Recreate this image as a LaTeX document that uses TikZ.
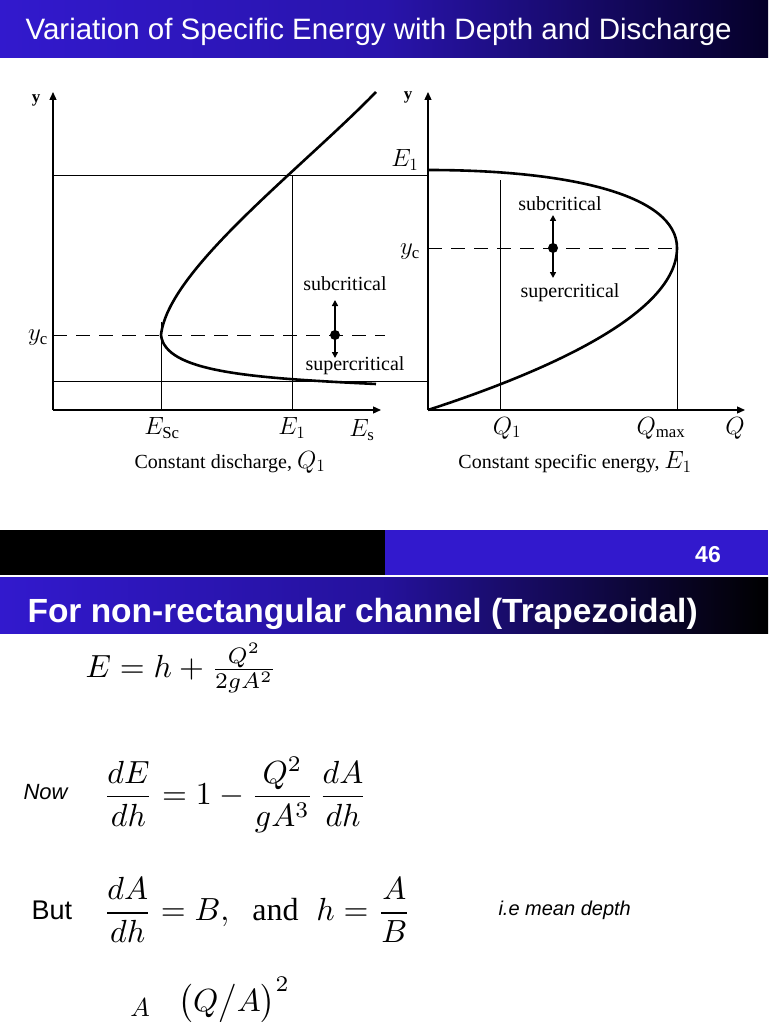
\documentclass[tikz,border=0pt]{standalone}
\usepackage{amsmath}
\usepackage{graphicx}
\usepackage{fontspec}
\setmainfont{Liberation Serif}
\setsansfont{Liberation Sans}
\usetikzlibrary{arrows.meta}
\definecolor{bblue}{RGB}{50,25,205}
\definecolor{ddark}{RGB}{5,0,40}
\tikzset{ax/.style={line width=1.3pt,-{Triangle[length=8pt,width=7pt]}},
 thin/.style={line width=0.9pt},
 curve/.style={line width=2.6pt},
 lab/.style={font=\fontsize{20}{20}\selectfont,inner sep=0pt},
 dbl/.style={line width=1.6pt,{Triangle[length=6pt,width=6pt]}-{Triangle[length=6pt,width=6pt]}}}
\begin{document}
\begin{tikzpicture}[x=1pt,y=-1pt]
\useasboundingbox (0,0) rectangle (768,1024);
\fill[white] (0,0) rectangle (768,1024);
% top banner
\shade[left color=bblue,right color=ddark,middle color=bblue!80!ddark] (0,0) rectangle (768,58);
\node[anchor=west,text=white,font=\sffamily\fontsize{29.5}{29.5}\selectfont] (title) at (22,32) {Variation of Specific Energy with Depth and Discharge};
% left graph
\draw[ax] (53,410) -- (53,92);
\draw[ax] (53,410) -- (381,410);
\node[lab,font=\bfseries\fontsize{17}{17}\selectfont] (ly) at (36,100) {y};
\draw[thin] (53,175) -- (428,175);
\draw[thin] (53,381) -- (428,381);
\draw[thin] (161,410) -- (161,322);
\draw[thin] (292,410) -- (292,175);
\draw[thin,dash pattern=on 14pt off 9pt] (53,335) -- (385,335);
\draw[curve] (376,92) .. controls (300,170) and (168,270) .. (161,335) .. controls (165,372) and (250,378) .. (376,384);
\draw[dbl] (335,300) -- (335,358);
\fill (335,335) circle (5pt);
\node[lab] (sub1) at (345,284) {subcritical};
\node[lab] (sup1) at (355,366) {supercritical};
\node[lab] (yc1) at (38,338) {\scalebox{1.2}{$y_{\mathrm c}$}};
\node[lab] (esc) at (162,428) {\scalebox{1.2}{$E_{\mathrm{Sc}}$}};
\node[lab] (e1a) at (292,428) {\scalebox{1.2}{$E_1$}};
\node[lab] (es) at (362,430) {\scalebox{1.2}{$E_{\mathrm s}$}};
\node[lab] (cd) at (230,462) {Constant discharge, \scalebox{1.2}{$Q_1$}};
% right graph
\draw[ax] (428,410) -- (428,92);
\draw[ax] (428,410) -- (745,410);
\node[lab,font=\bfseries\fontsize{17}{17}\selectfont] (ry) at (408,97) {y};
\node[lab] (e1b) at (405,160) {\scalebox{1.2}{$E_1$}};
\draw[thin] (500,410) -- (500,180);
\draw[thin] (677,410) -- (677,248);
\draw[thin,dash pattern=on 14pt off 9pt] (428,248) -- (677,248);
\draw[curve] (428,170) .. controls (570,170) and (677,195) .. (677,248) .. controls (677,320) and (520,380) .. (428,410);
\draw[dbl] (553,215) -- (553,278);
\fill (553,248) circle (5pt);
\node[lab] (sub2) at (560,204) {subcritical};
\node[lab] (sup2) at (570,293) {supercritical};
\node[lab] (yc2) at (410,252) {\scalebox{1.2}{$y_{\mathrm c}$}};
\node[lab] (q1) at (507,428) {\scalebox{1.2}{$Q_1$}};
\node[lab] (qm) at (661,428) {\scalebox{1.2}{$Q_{\max}$}};
\node[lab] (q) at (735,428) {\scalebox{1.2}{$Q$}};
\node[lab] (cse) at (575,462) {Constant specific energy, \scalebox{1.2}{$E_1$}};
% middle bars
\fill[black] (0,530) rectangle (385,575);
\fill[bblue] (385,530) rectangle (768,575);
\node[text=white,font=\sffamily\bfseries\fontsize{23}{23}\selectfont] (num) at (708,555) {46};
\shade[left color=bblue,right color=black,middle color=bblue!70!ddark] (0,577) rectangle (768,633);
\node[anchor=west,text=white,font=\sffamily\bfseries\fontsize{33.5}{33.5}\selectfont] (t2) at (24,614) {For non-rectangular channel (Trapezoidal)};
% equations
\node[anchor=west] (eq1) at (82,668) {\scalebox{3.2}{$E=h+\frac{Q^2}{2gA^2}$}};
\node[anchor=west,font=\sffamily\itshape\fontsize{22}{22}\selectfont] (now) at (20,792) {Now};
\node[anchor=west] (eq2) at (100,795) {\scalebox{3.2}{$\dfrac{dE}{dh}=1-\dfrac{Q^2}{gA^3}\,\dfrac{dA}{dh}$}};
\node[anchor=west,font=\sffamily\fontsize{27}{27}\selectfont] (but) at (28,910) {But};
\node[anchor=west] (eq3) at (100,910) {\scalebox{3.2}{$\dfrac{dA}{dh}=B,\;\;\text{and}\;\; h=\dfrac{A}{B}$}};
\node[anchor=west,font=\sffamily\itshape\fontsize{20}{20}\selectfont] (ie) at (495,910) {i.e mean depth};
\node (bA) at (140,1008) {\scalebox{2.6}{$A$}};
\node[anchor=west] (bq) at (175,1000) {\scalebox{3.2}{$\left(Q\big/A\right)^{2}$}};
\end{tikzpicture}
\end{document}
